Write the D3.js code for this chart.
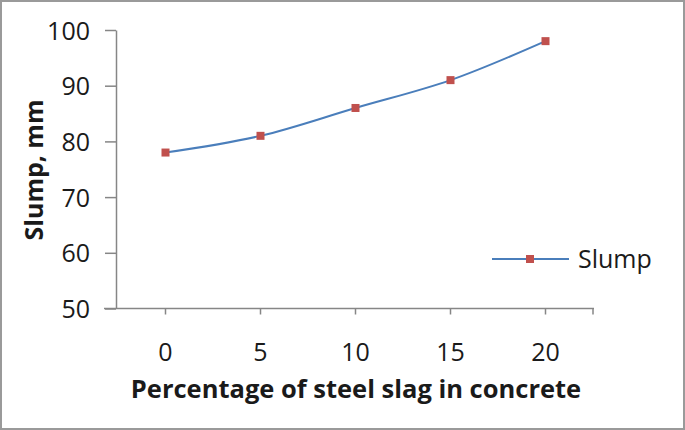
<!DOCTYPE html>
<html lang="en">
<head>
    <meta charset="UTF-8">
    <script src="https://d3js.org/d3.v7.min.js"></script>
    <style>
        body {
            margin: 0;
            font-family: "Open Sans", "Noto Sans", sans-serif;
            background: #fff;
        }
    </style>
</head>
<body>
    <div id="chart"></div>
    <script>
        const categories = ["0", "5", "10", "15", "20"];
        const slump = [78, 81, 86, 91, 98];
        const yTicks = [50, 60, 70, 80, 90, 100];
        const seriesName = "Slump";

        const width = 685, height = 430;
        const plotLeft = 116, plotRight = 593, plotTop = 30, plotBottom = 308.5;
        const fs = "25px";

        const svg = d3.select("#chart").append("svg")
            .attr("width", width)
            .attr("height", height);

        // outer frame
        svg.append("rect")
            .attr("x", 1).attr("y", 1)
            .attr("width", width - 2).attr("height", height - 2)
            .attr("fill", "#fff")
            .attr("stroke", "#9a9a9a")
            .attr("stroke-width", 2);

        const x = d3.scalePoint()
            .domain(categories)
            .range([plotLeft + 2, plotRight])
            .padding(0.5);

        const y = d3.scaleLinear()
            .domain([50, 100])
            .range([plotBottom, plotTop]);

        // y axis
        const gy = svg.append("g")
            .attr("transform", `translate(${plotLeft},0)`)
            .call(d3.axisLeft(y).tickValues(yTicks).tickSize(11).tickPadding(15).tickSizeOuter(0));
        gy.select(".domain").attr("stroke", "#868686").attr("stroke-width", 1.5);
        gy.selectAll(".tick line").attr("stroke", "#868686").attr("stroke-width", 1.5);
        gy.selectAll("text")
            .attr("fill", "#1a1a1a")
            .style("font-size", fs)
            .style("font-family", "'Open Sans', 'Noto Sans', sans-serif")
            .attr("dy", "0.36em");

        // x axis
        const gx = svg.append("g")
            .attr("transform", `translate(0,${plotBottom})`);
        gx.append("line")
            .attr("x1", plotLeft - 12).attr("x2", plotRight + 1)
            .attr("stroke", "#868686").attr("stroke-width", 1.5);
        const xTickPos = categories.map(d => x(d)).concat([plotRight]);
        gx.selectAll(".xt").data(xTickPos).enter().append("line")
            .attr("x1", d => d).attr("x2", d => d)
            .attr("y1", 0).attr("y2", 6)
            .attr("stroke", "#868686").attr("stroke-width", 1.5);
        gx.selectAll(".xl").data(categories).enter().append("text")
            .attr("x", d => x(d))
            .attr("y", 52)
            .attr("text-anchor", "middle")
            .attr("fill", "#1a1a1a")
            .style("font-size", fs)
            .text(d => d);

        // axis titles
        svg.append("text")
            .attr("x", 356).attr("y", 398)
            .attr("text-anchor", "middle")
            .attr("fill", "#1a1a1a")
            .style("font-size", "25.5px")
            .style("font-weight", "bold")
            .text("Percentage of steel slag in concrete");

        svg.append("text")
            .attr("transform", "translate(43,170) rotate(-90)")
            .attr("text-anchor", "middle")
            .attr("fill", "#1a1a1a")
            .style("font-size", "25px")
            .style("font-weight", "bold")
            .text("Slump, mm");

        // smoothed line
        const pts = categories.map((c, i) => [x(c), y(slump[i])]);
        svg.append("path")
            .attr("d", d3.line().curve(d3.curveCatmullRom.alpha(0.5))(pts))
            .attr("fill", "none")
            .attr("stroke", "#4a7ebb")
            .attr("stroke-width", 2);

        svg.selectAll(".mk").data(pts).enter().append("rect")
            .attr("x", d => d[0] - 4)
            .attr("y", d => d[1] - 4)
            .attr("width", 8).attr("height", 8)
            .attr("fill", "#c0504d");

        // legend
        const lg = svg.append("g").attr("transform", "translate(492,259)");
        lg.append("line")
            .attr("x1", 0).attr("x2", 77)
            .attr("stroke", "#4a7ebb").attr("stroke-width", 2);
        lg.append("rect")
            .attr("x", 34).attr("y", -4)
            .attr("width", 8).attr("height", 8)
            .attr("fill", "#c0504d");
        lg.append("text")
            .attr("x", 86).attr("y", 9)
            .attr("fill", "#1a1a1a")
            .style("font-size", fs)
            .text(seriesName);
    </script>
</body>
</html>
